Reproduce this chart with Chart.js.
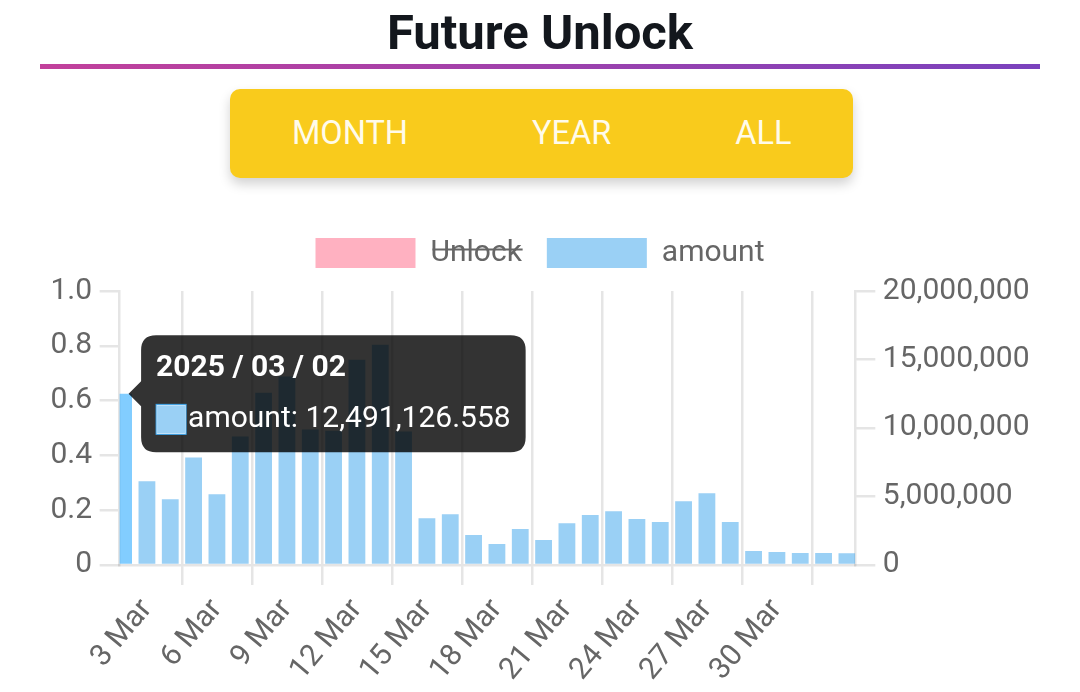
<!DOCTYPE html>
<html>
<head>
<meta charset="utf-8">
<title>Future Unlock</title>
<script src="https://cdn.jsdelivr.net/npm/chart.js@4.4.1/dist/chart.umd.min.js"></script>
<style>
  html, body { margin: 0; padding: 0; background: #fff; overflow: hidden; }
  body { width: 1080px; height: 692px; position: relative; font-family: Roboto, sans-serif; }
  h1 { position: absolute; top: 0; left: 0; width: 1080px; margin: 0; text-align: center; font-size: 49px; font-weight: 700; line-height: 66px; color: #13171d; }
  .rule { position: absolute; left: 40px; top: 64px; width: 1000px; height: 5px; background: linear-gradient(to right, #c2409b, #7a42bd); }
  .range { position: absolute; left: 230px; top: 89px; height: 89px; display: flex; background: #f9cb1c; border-radius: 10px; box-shadow: 0 6px 12px rgba(0, 0, 0, 0.18); }
  .range span { padding: 0 62px; line-height: 89px; font-size: 32.5px; color: #fffbea; }
  .chart-box { position: absolute; left: 43px; top: 213px; width: 994px; height: 482px; }
</style>
</head>
<body>
<h1>Future Unlock</h1>
<div class="rule"></div>
<div class="range"><span>MONTH</span><span>YEAR</span><span>ALL</span></div>
<div class="chart-box"><canvas id="unlock-chart"></canvas></div>

<script>
const dates = [
    "2025-03-02", "2025-03-03", "2025-03-04", "2025-03-05", "2025-03-06", "2025-03-07",
    "2025-03-08", "2025-03-09", "2025-03-10", "2025-03-11", "2025-03-12", "2025-03-13",
    "2025-03-14", "2025-03-15", "2025-03-16", "2025-03-17", "2025-03-18", "2025-03-19",
    "2025-03-20", "2025-03-21", "2025-03-22", "2025-03-23", "2025-03-24", "2025-03-25",
    "2025-03-26", "2025-03-27", "2025-03-28", "2025-03-29", "2025-03-30", "2025-03-31",
    "2025-04-01", "2025-04-02"
];
const amounts = [
    12491126.558, 6110000, 4800000, 7850000, 5160000, 9380000,
    12580000, 13750000, 9890000, 9800000, 14980000, 16070000,
    9750000, 3420000, 3710000, 2180000, 1530000, 2620000,
    1820000, 3050000, 3640000, 3930000, 3350000, 3130000,
    4650000, 5240000, 3130000, 1020000, 950000, 870000,
    870000, 850000
];
const unlocks = [];
const tickDays = [3, 6, 9, 12, 15, 18, 21, 24, 27, 30];
const tickLabels = ["3 Mar", "6 Mar", "9 Mar", "12 Mar", "15 Mar", "18 Mar", "21 Mar", "24 Mar", "27 Mar", "30 Mar"];

// day number counted from 1 March, so 2 Apr = 33
const dayOf = d => (Date.parse(d + "T00:00:00Z") - Date.UTC(2025, 2, 1)) / 864e5 + 1;
const points = dates.map((d, i) => ({ x: dayOf(d), y: amounts[i] }));

Chart.defaults.font.family = "Roboto";
Chart.defaults.font.size = 30;
Chart.defaults.color = "#666";

// tooltip caret at the top of the bar
Chart.Tooltip.positioners.barTop = items => {
    if (!items.length) return false;
    const el = items[0].element;
    return { x: el.x, y: el.y };
};

// a bit more room under the legend
const legendGap = {
    id: "legendGap",
    beforeInit(chart) {
        const fit = chart.legend.fit;
        chart.legend.fit = function () {
            fit.call(this);
            this.height += 13;
        };
    }
};

const gridStyle = { color: "rgba(0,0,0,0.1)", lineWidth: 2.5, tickLength: 20 };

const chart = new Chart(document.getElementById("unlock-chart"), {
    type: "bar",
    data: {
        datasets: [
            {
                label: "Unlock",
                data: unlocks,
                hidden: true,
                yAxisID: "y",
                backgroundColor: "rgba(255, 99, 132, 0.5)",
                borderColor: "rgb(255, 99, 132)"
            },
            {
                label: "amount",
                data: points,
                yAxisID: "y1",
                backgroundColor: "rgba(54, 162, 235, 0.5)",
                borderColor: "rgb(54, 162, 235)"
            }
        ]
    },
    plugins: [legendGap],
    options: {
        responsive: true,
        maintainAspectRatio: false,
        animation: false,
        plugins: {
            legend: {
                labels: { boxWidth: 100, boxHeight: 30, padding: 25 }
            },
            tooltip: {
                position: "barTop",
                backgroundColor: "rgba(0,0,0,0.8)",
                padding: 15,
                caretSize: 12.5,
                caretPadding: 5,
                cornerRadius: 15,
                titleMarginBottom: 15,
                bodySpacing: 5,
                titleFont: { size: 30, weight: "bold" },
                bodyFont: { size: 30 },
                callbacks: {
                    title: items => dates[items[0].dataIndex].split("-").join(" / ")
                }
            }
        },
        scales: {
            x: {
                type: "linear",
                min: 1.83,
                max: 33.36,
                offset: false,
                afterBuildTicks: scale => {
                    scale.ticks = tickDays.map(v => ({ value: v }));
                },
                ticks: {
                    autoSkip: false,
                    minRotation: 50,
                    maxRotation: 50,
                    padding: 7.5,
                    callback: (v, i) => tickLabels[i]
                },
                grid: Object.assign({ offset: true }, gridStyle),
                border: { width: 2.5, color: "rgba(0,0,0,0.1)" }
            },
            y: {
                position: "left",
                min: 0,
                max: 1,
                ticks: { padding: 7.5 },
                grid: Object.assign({ drawOnChartArea: false }, gridStyle),
                border: { width: 2.5, color: "rgba(0,0,0,0.1)" }
            },
            y1: {
                position: "right",
                min: 0,
                max: 20000000,
                ticks: { padding: 7.5, stepSize: 5000000 },
                grid: Object.assign({ drawOnChartArea: false }, gridStyle),
                border: { width: 2.5, color: "rgba(0,0,0,0.1)" }
            }
        }
    }
});

// show the hovered first bar with its tooltip
const active = [{ datasetIndex: 1, index: 0 }];
chart.setActiveElements(active);
chart.tooltip.setActiveElements(active, { x: 0, y: 0 });
chart.update();
</script>
</body>
</html>
